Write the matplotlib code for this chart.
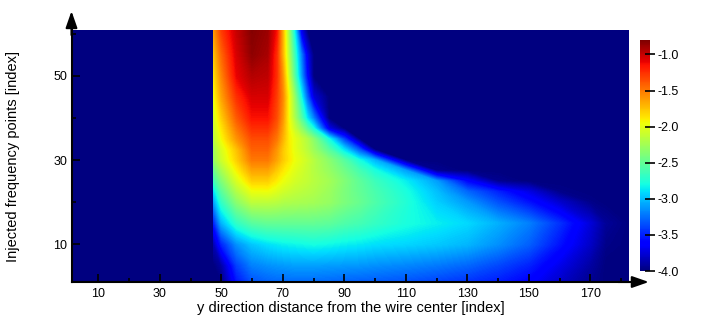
import matplotlib.pyplot as plt
import numpy as np
from matplotlib.colors import Normalize
from matplotlib.cm import ScalarMappable

plt.rcParams['font.family'] = ['Liberation Sans', 'DejaVu Sans']
plt.rcParams['axes.unicode_minus'] = False

# sample positions (index units)
x_idx = [1, 47.5, 47.6, 50, 55, 60, 65, 68, 70, 72, 74, 76, 78, 80, 85, 90,
         95, 100, 110, 120, 130, 140, 150, 160, 170, 175, 183]
y_idx = [1, 5, 10, 15, 20, 22.5, 25, 27.5, 30, 32.5, 35, 37.5, 40, 45, 50, 55, 61]

# log-amplitude values, one row per y_idx, one entry per x_idx (-4 = floor of the scale)
row_y1 = [-4, -4, -4, -4, -3.55, -3.35, -3.3, -3.28, -3.28, -3.27, -3.27, -3.27, -3.27, -3.27,
          -3.28, -3.3, -3.31, -3.32, -3.35, -3.4, -3.45, -3.52, -3.62, -3.8, -3.95, -4, -4]
row_y5 = [-4, -4, -4, -3.9, -3.4, -3.2, -3.15, -3.13, -3.12, -3.11, -3.1, -3.1, -3.1, -3.1,
          -3.11, -3.12, -3.13, -3.15, -3.18, -3.22, -3.28, -3.38, -3.5, -3.7, -3.9, -4, -4]
row_y10 = [-4, -4, -3.85, -3.5, -3.15, -2.98, -2.9, -2.87, -2.85, -2.84, -2.83, -2.82, -2.81, -2.8,
           -2.82, -2.85, -2.87, -2.9, -2.93, -2.97, -3.03, -3.15, -3.3, -3.55, -3.8, -3.97, -4]
row_y15 = [-4, -4, -3.5, -3.05, -2.7, -2.55, -2.5, -2.5, -2.5, -2.5, -2.5, -2.5, -2.5, -2.5,
           -2.52, -2.58, -2.62, -2.68, -2.78, -2.85, -2.92, -3.05, -3.2, -3.45, -3.75, -3.93, -4]
row_y20 = [-4, -4, -3.1, -2.7, -2.35, -2.15, -2.15, -2.17, -2.2, -2.21, -2.22, -2.23, -2.24, -2.25,
           -2.3, -2.4, -2.48, -2.58, -2.75, -2.95, -3.12, -3.35, -3.55, -3.78, -3.97, -4, -4]
row_y22 = [-4, -4, -2.9, -2.55, -2.2, -1.98, -1.97, -2.03, -2.08, -2.11, -2.14, -2.16, -2.18, -2.2,
           -2.28, -2.4, -2.5, -2.6, -2.78, -3.0, -3.28, -3.5, -3.72, -3.97, -4, -4, -4]
row_y25 = [-4, -4, -2.65, -2.4, -2.05, -1.8, -1.8, -1.9, -1.97, -2.02, -2.07, -2.1, -2.13, -2.17,
           -2.25, -2.38, -2.52, -2.65, -2.85, -3.1, -3.6, -3.95, -4, -4, -4, -4, -4]
row_y27 = [-4, -4, -2.48, -2.25, -1.92, -1.65, -1.65, -1.78, -1.88, -1.95, -2.02, -2.07, -2.12, -2.18,
           -2.3, -2.45, -2.62, -2.78, -3.1, -3.95] + [-4] * 7
row_y30 = [-4, -4, -2.3, -2.1, -1.8, -1.5, -1.5, -1.65, -1.78, -1.88, -1.97, -2.03, -2.1, -2.18,
           -2.35, -2.55, -2.8, -3.05] + [-4] * 9
row_y32 = [-4, -4, -2.25, -2.05, -1.75, -1.42, -1.42, -1.6, -1.77, -1.89, -2.0, -2.08, -2.17, -2.28,
           -2.55, -2.9, -3.35] + [-4] * 10
row_y35 = [-4, -4, -2.15, -1.95, -1.6, -1.35, -1.35, -1.5, -1.7, -1.9, -2.0, -2.1, -2.2, -2.35,
           -2.8, -3.4] + [-4] * 11
row_y37 = [-4, -4, -2.1, -1.88, -1.5, -1.25, -1.25, -1.42, -1.65, -1.92, -2.12, -2.32, -2.55, -2.78,
           -3.7] + [-4] * 12
row_y40 = [-4, -4, -2.05, -1.8, -1.4, -1.15, -1.15, -1.35, -1.6, -1.95, -2.25, -2.55, -2.9, -3.2] + [-4] * 13
row_y45 = [-4, -4, -1.95, -1.65, -1.25, -1.05, -1.05, -1.3, -1.55, -1.95, -2.35, -2.8, -3.3, -3.75] + [-4] * 13
row_y50 = [-4, -4, -1.85, -1.55, -1.1, -0.95, -0.98, -1.25, -1.6, -2.1, -2.6, -3.1, -3.6] + [-4] * 14
row_y55 = [-4, -4, -1.75, -1.45, -1.05, -0.85, -0.92, -1.25, -1.7, -2.2, -2.7, -3.2, -3.7] + [-4] * 14
row_y61 = [-4, -4, -1.6, -1.3, -1.0, -0.82, -0.88, -1.15, -1.7, -2.3, -2.9, -3.7] + [-4] * 15

field = np.array([row_y1, row_y5, row_y10, row_y15, row_y20, row_y22, row_y25, row_y27, row_y30,
                  row_y32, row_y35, row_y37, row_y40, row_y45, row_y50, row_y55, row_y61])

x_major = [10, 30, 50, 70, 90, 110, 130, 150, 170]
x_minor = [20, 40, 60, 80, 100, 120, 140, 160, 180]
y_major = [10, 30, 50]
y_minor = [20, 40, 60]
cb_ticks = [-4.0, -3.5, -3.0, -2.5, -2.0, -1.5, -1.0]
vmin, vmax = -4.0, -0.8

W, H = 701, 319
fig = plt.figure(figsize=(W / 100, H / 100), dpi=100)
ax = fig.add_axes([71.5 / W, (H - 282) / H, (629.3 - 71.5) / W, (282 - 30) / H])

levels = np.linspace(vmin, vmax, 257)
ax.contourf(x_idx, y_idx, field, levels=levels, cmap='jet', vmin=vmin, vmax=vmax, extend='min')
ax.set_xlim(1.27, 182.7)
ax.set_ylim(1.05, 60.9)

for s in ['top', 'right']:
    ax.spines[s].set_visible(False)
for s in ['left', 'bottom']:
    ax.spines[s].set_linewidth(1.5)

ax.set_xticks(x_major)
ax.set_xticks(x_minor, minor=True)
ax.set_yticks(y_major)
ax.set_yticks(y_minor, minor=True)
ax.tick_params(which='major', direction='in', length=6, width=1.2, labelsize=9, pad=4)
ax.tick_params(which='minor', direction='in', length=3, width=1.2)
ax.tick_params(axis='y', pad=3)

# axis arrows
arrow = dict(arrowstyle='-|>,head_length=1.0,head_width=0.35', color='black', lw=1.5,
             shrinkA=0, shrinkB=0)
ax.annotate('', xy=(0, 1.075), xytext=(0, 0.98), xycoords='axes fraction', arrowprops=arrow,
            annotation_clip=False)
ax.annotate('', xy=(1.035, 0), xytext=(0.98, 0), xycoords='axes fraction', arrowprops=arrow,
            annotation_clip=False)

ax.set_xlabel('y direction distance from the wire center [index]', fontsize=10.5, labelpad=1)
ax.set_ylabel('Injected frequency points [index]', fontsize=10.5, labelpad=24)

cax = fig.add_axes([640 / W, (H - 271) / H, 10 / W, 231 / H])
cb = fig.colorbar(ScalarMappable(norm=Normalize(vmin, vmax), cmap='jet'), cax=cax)
cb.set_ticks(cb_ticks)
cb.set_ticklabels([f'{t:.1f}' for t in cb_ticks])
cb.outline.set_visible(False)
cax.tick_params(direction='inout', length=7, width=1.2, labelsize=9, pad=2)

fig.savefig('out.png', dpi=100)
